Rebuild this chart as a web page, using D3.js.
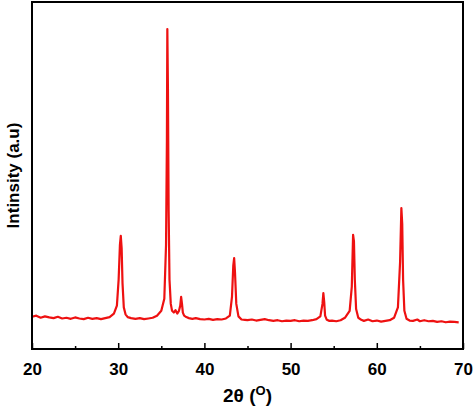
<!DOCTYPE html>
<html><head><meta charset="utf-8">
<script src="https://cdn.jsdelivr.net/npm/d3@7"></script>
<style>body{margin:0;background:#fff}</style></head>
<body><svg id="c" width="474" height="407"></svg>
<script>
const xTicks=[20,30,40,50,60,70];
const twoTheta=[20,20.5,21,21.5,22,22.5,23,23.5,24,24.5,25,25.5,26,26.5,27,27.5,28,28.5,29,29.5,29.85,30.05,30.2,30.3,30.4,30.5,30.65,30.85,31.1,31.5,32,32.5,33,33.5,34,34.5,35.0,35.35,35.55,35.65,35.7,35.77,35.85,35.95,36.1,36.25,36.45,36.65,36.85,37.05,37.2,37.3,37.4,37.5,37.65,37.9,38.2,38.6,39,39.5,40,40.5,41,41.5,42,42.5,42.95,43.2,43.35,43.45,43.55,43.7,43.95,44.3,44.7,45,45.5,46,46.5,47,47.5,48,48.5,49,49.5,50,50.5,51,51.5,52,52.5,53,53.45,53.7,53.8,53.9,54.0,54.2,54.5,54.8,55.3,55.8,56.3,56.85,57.1,57.25,57.35,57.45,57.6,57.85,58.2,58.5,59,59.5,60,60.5,61,61.5,62,62.45,62.7,62.85,62.95,63.05,63.2,63.45,63.8,64.2,64.7,65,65.5,66,66.5,67,67.5,68,68.5,69,69.5,70];
const intensity=[9.3,9.6,9.0,9.4,9.1,8.9,9.3,8.8,9.0,8.7,9.1,8.8,8.6,9.0,8.7,8.9,8.6,8.9,9.2,10.2,12.5,20,30,32.6,29,19,12,10,9.2,8.9,8.7,8.9,8.6,8.8,9.0,9.6,11,14.5,30,60,92.2,75,40,20,13,11,10.5,11.2,10.2,11,12.5,15,13,10.5,9.6,9.2,8.9,8.7,8.9,8.6,8.5,8.7,8.4,8.6,8.5,8.8,9.6,15,24,26.2,22,13,9.4,8.5,8.4,8.3,8.5,8.2,8.4,8.6,8.3,8.1,8.3,8.0,8.2,8.1,8.3,8.0,8.2,8.1,8.3,8.6,9.4,13,16.1,13.5,9.6,8.4,8.1,8.2,8.0,8.3,9.0,11,18,32.9,31,20,11.5,9.0,8.4,8.1,8.5,8.0,8.2,7.9,8.1,8.3,9.0,12,25,40.6,36,20,11,8.7,8.2,8.1,8.5,8.0,8.3,8.0,8.1,7.8,8.0,7.7,7.9,7.8,7.7];
const svg=d3.select("#c");
const L=32,R=463,T=2,B=349;
const x=d3.scaleLinear().domain([20,70]).range([L,R]);
const y=d3.scaleLinear().domain([0,100]).range([B,T]);
svg.append("path").datum(twoTheta.map((d,i)=>[d,intensity[i]]))
 .attr("d",d3.line().x(d=>x(d[0])).y(d=>y(d[1])))
 .attr("fill","none").attr("stroke","#ee1111").attr("stroke-width",2.2).attr("stroke-linejoin","round");
svg.append("rect").attr("x",L).attr("y",T).attr("width",R-L).attr("height",B-T)
 .attr("fill","none").attr("stroke","#000").attr("stroke-width",2);
const ax=svg.append("g").attr("transform",`translate(0,${B})`)
 .call(d3.axisBottom(x).tickValues(xTicks).tickSize(-6).tickPadding(14).tickFormat(d3.format("d")));
ax.select(".domain").remove();
ax.selectAll("line").attr("stroke-width",1.5);
ax.selectAll("text").attr("font-family","Arial, Liberation Sans").attr("font-size",17).attr("font-weight","bold").attr("fill","#000");
const mx=svg.append("g").attr("transform",`translate(0,${B})`)
 .call(d3.axisBottom(x).tickValues([25,35,45,55,65]).tickSize(-3).tickFormat(""));
mx.select(".domain").remove(); mx.selectAll("line").attr("stroke-width",1.5);
svg.append("text").attr("x",(L+R)/2).attr("y",402).attr("text-anchor","middle")
 .attr("font-family","Arial, Liberation Sans").attr("font-size",19).attr("font-weight","bold")
 .html('2θ (<tspan dy="-7" font-size="13">O</tspan><tspan dy="7">)</tspan>');
svg.append("text").attr("transform",`translate(19,${(T+B)/2}) rotate(-90)`).attr("text-anchor","middle")
 .attr("font-family","Arial, Liberation Sans").attr("font-size",17).attr("font-weight","bold").text("Intinsity (a.u)");
</script></body></html>
